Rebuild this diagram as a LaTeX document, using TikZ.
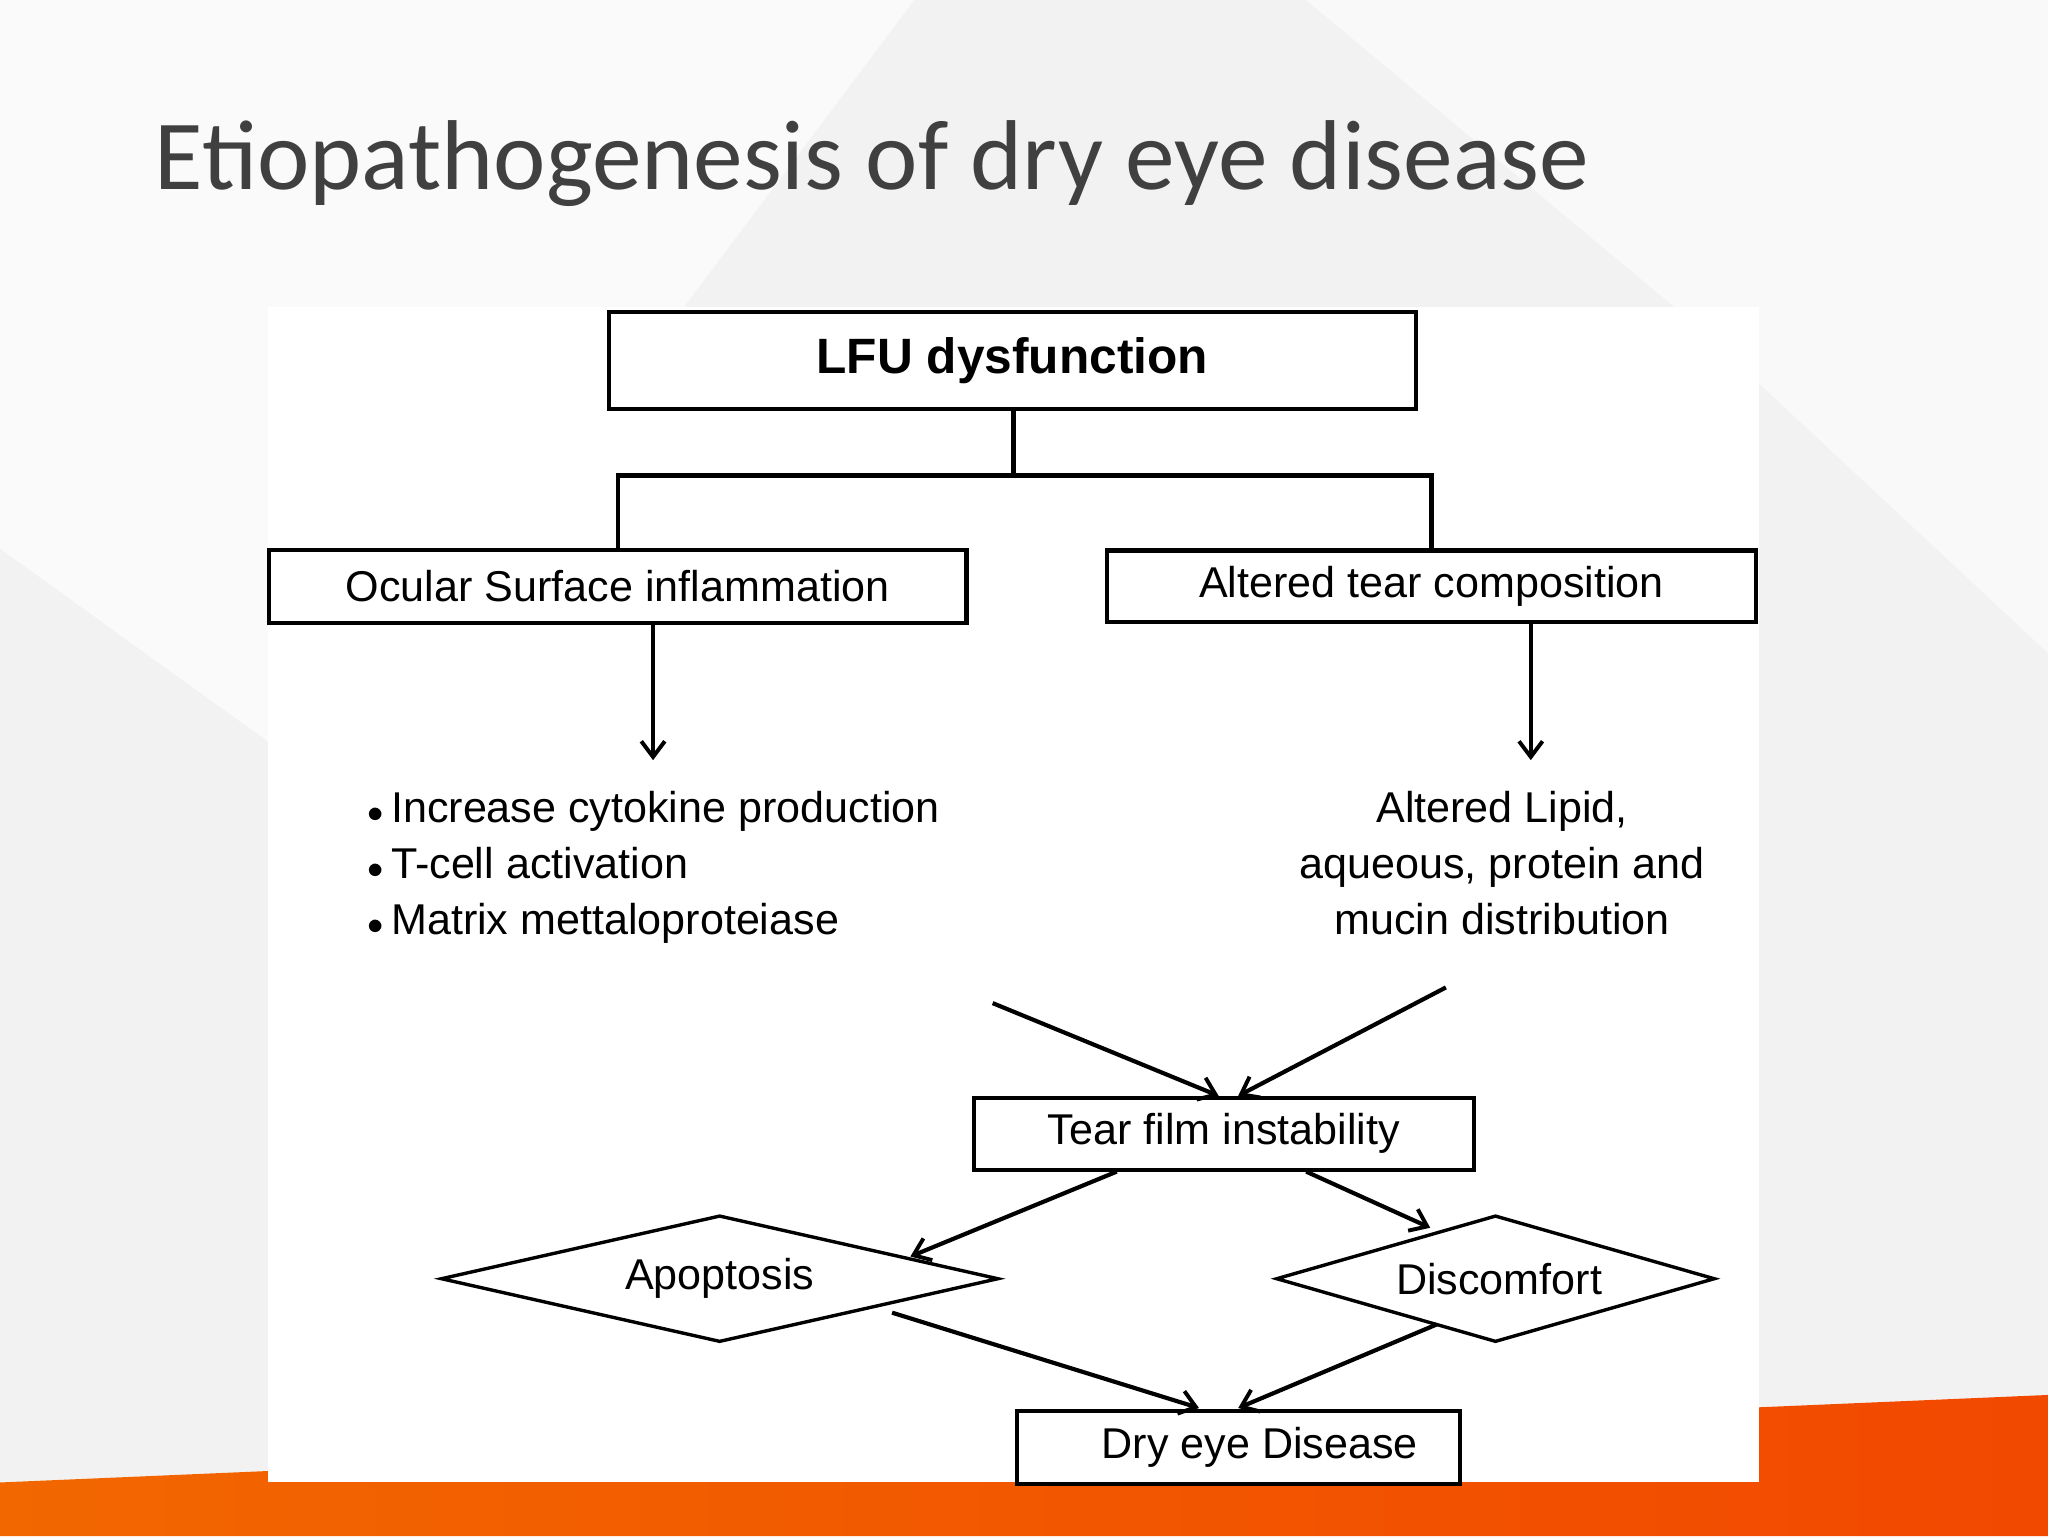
\documentclass[tikz,border=0pt]{standalone}
\usepackage{fontspec}
\setmainfont{Liberation Sans}
\newfontfamily\titlefont{Carlito}
\usetikzlibrary{shapes.geometric,arrows.meta}
\begin{document}
\begin{tikzpicture}[x=1pt,y=-1pt,
  box/.style={draw,line width=3.2pt,minimum height=#1,inner sep=0pt,font=\fontsize{33}{36}\selectfont},
  dia/.style={diamond,draw,line width=2.6pt,inner sep=0pt,font=\fontsize{33}{36}\selectfont},
  arr/.style={line width=3.2pt,-{Straight Barb[length=12pt,width=18pt,line width=3pt]}},
  ln/.style={line width=3.2pt},
  txt/.style={font=\fontsize{33}{43}\selectfont}]
\useasboundingbox (0,0) rectangle (1568,1176);
\fill[gray!10] (0,0) rectangle (1568,1176);
\fill[gray!4] (0,0) -- (700,0) -- (250,600) -- (0,420) -- cycle;
\fill[gray!5] (1000,0) -- (1568,0) -- (1568,500) -- (1300,250) -- cycle;
\shade[left color=orange!85!red!95!black, right color=red!40!orange!95!black] (0,1135) -- (1568,1068) -- (1568,1176) -- (0,1176) -- cycle;
\fill[white] (205,235) rectangle (1347,1135);
\node[anchor=base west,text=black!75,font=\titlefont\fontsize{76}{86}\selectfont] (title) at (115,145) {Etiopathogenesis of dry eye disease};
\node[box=74pt,minimum width=618pt,font=\bfseries\fontsize{38}{40}\selectfont] (lfu) at (775,276) {LFU dysfunction};
\node[box=56pt,minimum width=534pt] (osi) at (473,449) {Ocular Surface inflammation};
\node[box=55pt,minimum width=497pt] (atc) at (1096,449) {Altered tear composition};
\coordinate (j) at (776,364);
\draw[ln] (lfu.south -| j) -- (j);
\draw[ln] (osi.north) -- (osi.north |- j) -- (atc.north |- j) -- (atc.north);
\coordinate (b1) at (500,582);
\coordinate (b2) at (1172,582);
\draw[arr] (osi.south -| b1) -- (b1);
\draw[arr] (atc.south -| b2) -- (b2);
\node[txt,anchor=north west,align=left] (bul) at (278,602) {$\bullet$\,Increase cytokine production\\ $\bullet$\,T-cell activation\\ $\bullet$\,Matrix mettaloproteiase};
\node[txt,anchor=north,align=center] (alt) at (1150,602) {Altered Lipid,\\aqueous, protein and\\mucin distribution};
\node[box=55pt,minimum width=383pt] (tear) at (937,868) {Tear film instability};
\coordinate (s1) at (760,768);
\coordinate (s2) at (1107,756);
\coordinate (t1) at (933,839);
\coordinate (t2) at (948,839);
\draw[arr] (s1) -- (t1);
\draw[arr] (s2) -- (t2);
\node[dia,minimum width=427pt,minimum height=97pt,aspect=4.4] (apo) at (551,979) {Apoptosis};
\node[dia,minimum width=336pt,minimum height=97pt,aspect=3.5] (dis) at (1145,979) {\,Discomfort};
\coordinate (u1) at (855,897);
\coordinate (u2) at (1000,897);
\coordinate (a1) at (697,962);
\coordinate (a2) at (1095,940);
\draw[arr] (u1) -- (a1);
\draw[arr] (u2) -- (a2);
\node[box=56pt,minimum width=339pt] (dry) at (948,1108) {\quad Dry eye Disease};
\coordinate (v1) at (683,1005);
\coordinate (v2) at (1100,1014);
\coordinate (d1) at (918,1078);
\coordinate (d2) at (948,1078);
\draw[arr] (v1) -- (d1);
\draw[arr] (v2) -- (d2);
\end{tikzpicture}
\end{document}
